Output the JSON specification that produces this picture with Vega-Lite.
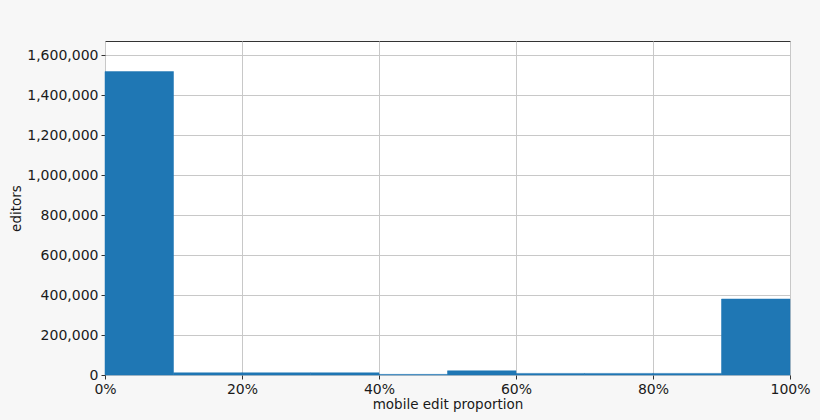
{
  "$schema": "https://vega.github.io/schema/vega-lite/v6.json",
  "description": "Histogram of mobile edit proportion per editor",
  "autosize": "none",
  "width": 685,
  "height": 334,
  "padding": {"left": 105, "top": 41, "right": 30, "bottom": 45},
  "background": "#f7f7f7",
  "config": {
    "font": "DejaVu Sans",
    "view": {"fill": "white", "stroke": "#333333", "strokeWidth": 1},
    "axis": {
      "labelFont": "DejaVu Sans",
      "titleFont": "DejaVu Sans",
      "labelFontSize": 14,
      "titleFontSize": 13.5,
      "titleFontWeight": "normal",
      "labelColor": "#1a1a1a",
      "titleColor": "#1a1a1a",
      "grid": true,
      "gridColor": "#c8c8c8",
      "gridWidth": 1,
      "domain": false,
      "tickColor": "#333333",
      "tickSize": 4,
      "labelFlush": false
    }
  },
  "data": {
    "values": [
      {"bin_start": 0.0, "bin_end": 0.1, "editors": 1517000},
      {"bin_start": 0.1, "bin_end": 0.2, "editors": 11000},
      {"bin_start": 0.2, "bin_end": 0.3, "editors": 11000},
      {"bin_start": 0.3, "bin_end": 0.4, "editors": 11000},
      {"bin_start": 0.4, "bin_end": 0.5, "editors": 3000},
      {"bin_start": 0.5, "bin_end": 0.6, "editors": 21000},
      {"bin_start": 0.6, "bin_end": 0.7, "editors": 8000},
      {"bin_start": 0.7, "bin_end": 0.8, "editors": 8000},
      {"bin_start": 0.8, "bin_end": 0.9, "editors": 8000},
      {"bin_start": 0.9, "bin_end": 1.0, "editors": 380000}
    ]
  },
  "mark": {"type": "rect", "color": "#1f77b4", "stroke": "#1f77b4", "strokeWidth": 0.5},
  "encoding": {
    "x": {
      "field": "bin_start",
      "type": "quantitative",
      "scale": {"domain": [0, 1], "nice": false, "zero": false},
      "axis": {
        "values": [0, 0.2, 0.4, 0.6, 0.8, 1],
        "format": ".0%",
        "title": "mobile edit proportion",
        "titlePadding": 1,
        "labelPadding": 3
      }
    },
    "x2": {"field": "bin_end"},
    "y": {
      "field": "editors",
      "type": "quantitative",
      "scale": {"domain": [0, 1670000], "nice": false},
      "axis": {
        "values": [0, 200000, 400000, 600000, 800000, 1000000, 1200000, 1400000, 1600000],
        "format": ",d",
        "title": "editors",
        "titlePadding": 3,
        "labelPadding": 3
      }
    },
    "y2": {"datum": 0}
  }
}
